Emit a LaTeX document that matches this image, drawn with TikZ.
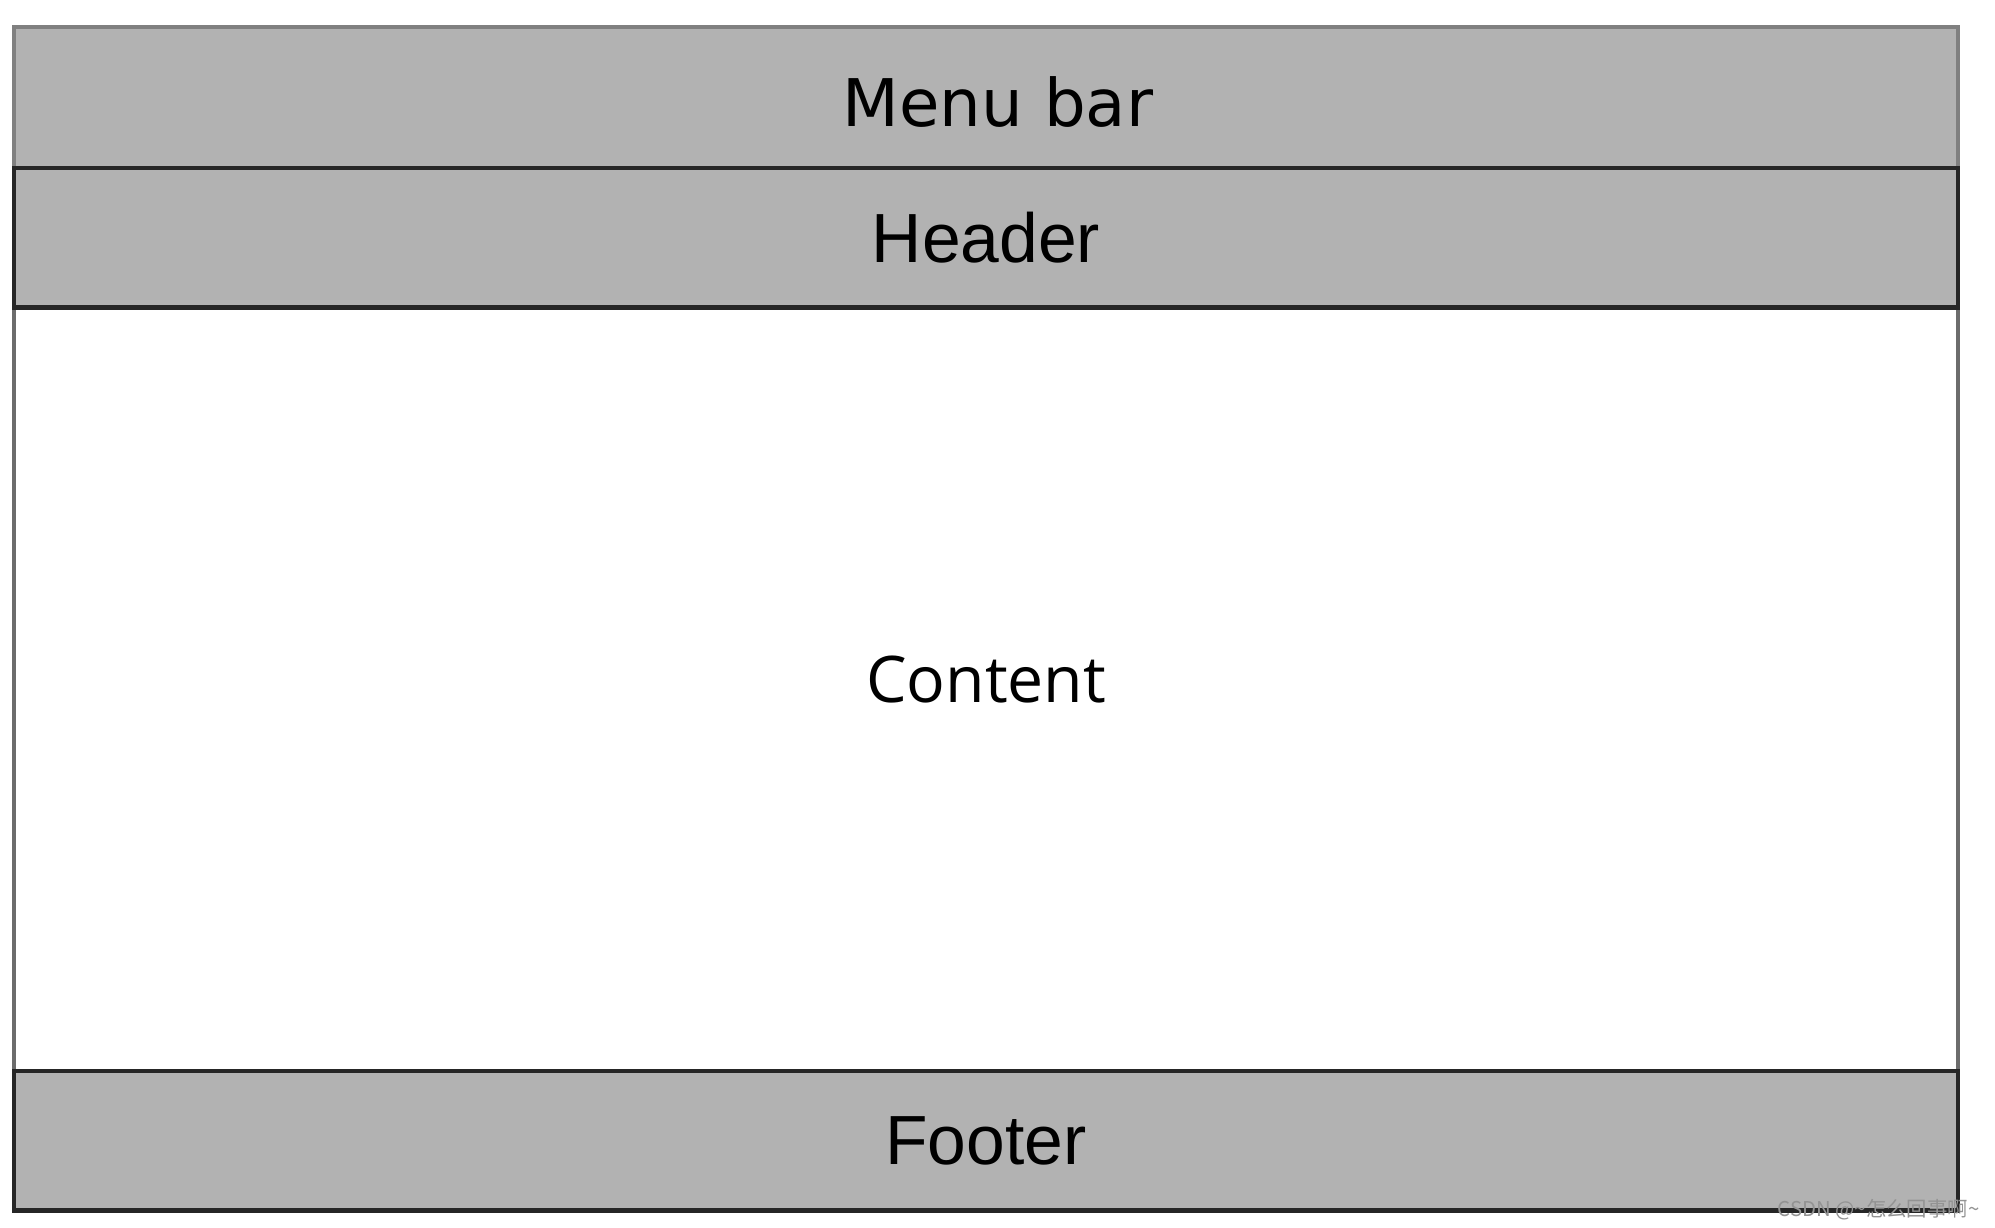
\documentclass[tikz,border=0pt]{standalone}
\usepackage{fontspec}
\newfontfamily\menufont{DejaVu Sans}
\newfontfamily\barfont{Liberation Sans}
\newfontfamily\contfont{Open Sans}
\newfontfamily\cjkfont{Noto Sans CJK SC}
\usetikzlibrary{positioning}
\definecolor{barfill}{gray}{0.70}
\definecolor{lightedge}{gray}{0.50}
\definecolor{darkedge}{gray}{0.15}
\tikzset{
	pane/.style={rectangle,line width=1.4pt,minimum width=19.44cm,inner sep=0pt,outer sep=0pt,anchor=north},
}
\begin{document}
\begin{tikzpicture}
		\useasboundingbox (0,0) rectangle (19.95,-12.28);
		%
		\node[pane,fill=barfill,draw=lightedge,minimum height=1.41cm,text height=0.58cm,
			font=\menufont\fontsize{18.7}{22}\selectfont] (mb) at (9.86,-0.27) {\hspace*{0.24cm}Menu bar};
		\node[pane,fill=white,draw=lightedge!85!black,line width=1pt,minimum height=7.635cm,
			text depth=0.2cm,font=\contfont\fontsize{18.3}{22}\selectfont] (ct) at (9.86,-3.075) {Content};
		\node[pane,fill=barfill,draw=darkedge,minimum height=1.395cm,
			font=\barfont\fontsize{19.8}{24}\selectfont] (hd) at (9.86,-1.68) {Header};
		\node[pane,fill=barfill,draw=darkedge,minimum height=1.395cm,
			font=\barfont\fontsize{19.8}{24}\selectfont] (ft) at (9.86,-10.71) {Footer};
		%
		\node[anchor=base east,inner sep=0pt,text=gray!85,font=\cjkfont\fontsize{5.8}{7}\selectfont] (wm) at (19.80,-12.16) {CSDN @\textasciitilde 怎么回事啊\textasciitilde};
		%
\end{tikzpicture}
\end{document}
